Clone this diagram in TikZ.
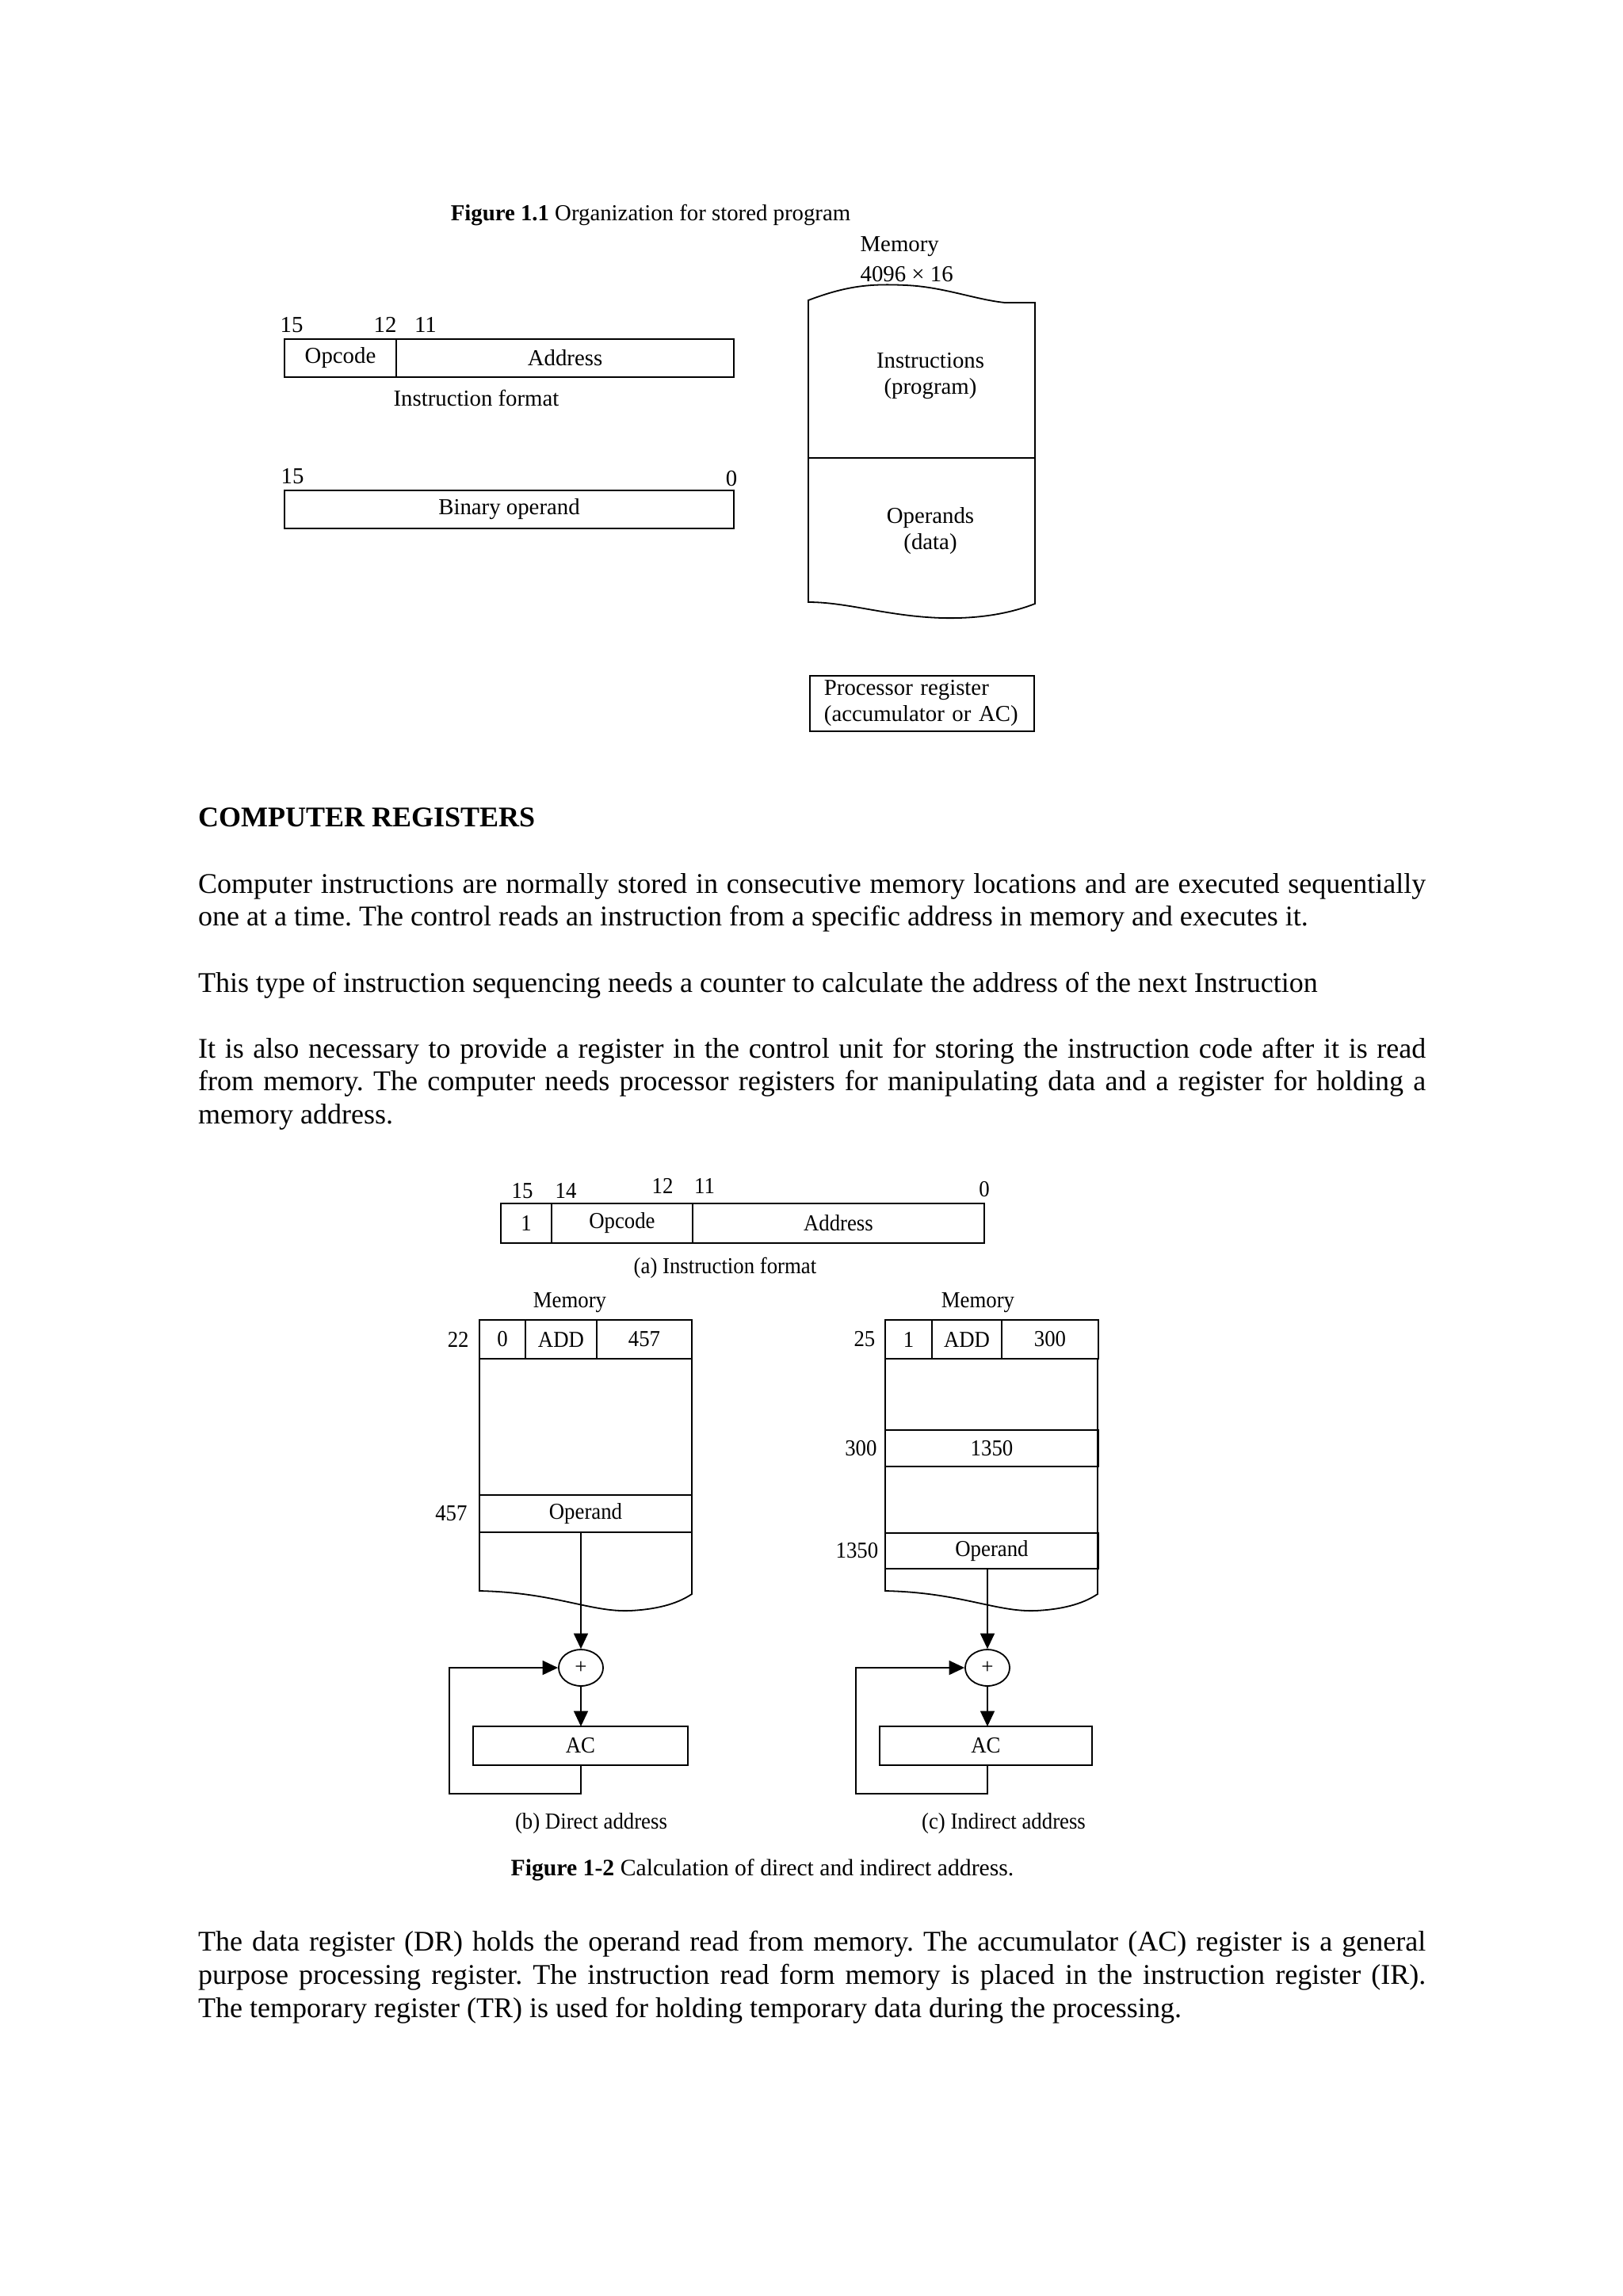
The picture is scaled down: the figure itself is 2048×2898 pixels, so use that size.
\documentclass[tikz,border=0pt]{standalone}
\usepackage{fontspec}
\setmainfont{Liberation Serif}
\newfontfamily\narrowserif[FakeStretch=0.93]{Liberation Serif}
\usepackage{tikz}
\usetikzlibrary{shapes,arrows.meta,positioning,calc}
\frenchspacing

\newcommand{\fullline}[1]{\makebox[516.33pt][s]{#1}}

\begin{document}
\begin{tikzpicture}[
    x=0.3333pt, y=-0.3333pt,
    every node/.style={inner sep=0pt},
    thinline/.style={line width=0.6pt},
    body/.style={anchor=base west, font=\fontsize{12}{14}\selectfont},
    fig/.style={font=\fontsize{9.6}{11}\selectfont},
    figb/.style={font=\narrowserif\fontsize{9.6}{11}\selectfont},
    cell/.style={rectangle, draw, line width=0.6pt, outer sep=0pt, font=\fontsize{9.6}{11}\selectfont},
    cellb/.style={rectangle, draw, line width=0.6pt, outer sep=0pt, font=\narrowserif\fontsize{9.6}{11}\selectfont},
    adder/.style={ellipse, draw, line width=0.6pt, minimum width=18.7pt, minimum height=15.3pt, font=\fontsize{9}{10}\selectfont},
    arrow/.style={-{Triangle[length=6.5pt, width=6pt]}, line width=0.6pt}
]

% Page
\fill[white] (0,0) rectangle (2048,2898);

% Figure 1.1
\node[fig] (cap1) at (821,272) {\textbf{Figure 1.1} Organization for stored program};

\node[fig] (b15) at (368,410) {15};
\node[fig] (b12) at (486,410) {12};
\node[fig] (b11) at (537,410) {11};
\node[cell, minimum width=47pt, minimum height=16pt] (opc) at (429.5,452) {Opcode};
\node[cell, minimum width=142pt, minimum height=16pt, right=0pt of opc] (adr) {Address};
\node[fig] (ifmt) at (601,502) {Instruction format};

\node[fig] (c15) at (369,601) {15};
\node[fig] (c0) at (923,604) {0};
\node[cell, minimum width=189pt, minimum height=16pt] (bin) at (642.5,643) {Binary operand};

% Memory block
\node[fig, anchor=west] (memA) at (1085,311) {Memory};
\node[fig, anchor=west] (memB) at (1085,346) {4096 × 16};
\draw[thinline] (1020,379) .. controls (1070,360) and (1100,358) .. (1143,360)
    .. controls (1190,362) and (1230,378) .. (1268,382) -- (1306,382) -- (1306,762)
    .. controls (1270,776) and (1230,781) .. (1189,780)
    .. controls (1120,778) and (1070,760) .. (1020,760) -- cycle;
\draw[thinline] (1020,578) -- (1306,578);
\node[fig, align=center] (instr) at (1174,475) {Instructions\\(program)};
\node[fig, align=center] (opnd) at (1174,670) {Operands\\(data)};

\node[fig, draw, thinline, anchor=north west, align=left, text width=82.3pt,
      inner xsep=6pt, inner ysep=2pt] (preg) at (1021,852) {Processor register\\(accumulator or AC)};

% Section heading and text
\node[body, font=\fontsize{12}{14}\selectfont\bfseries] (head) at (249.5,1043) {COMPUTER REGISTERS};
\node[body] (p1a) at (249.5,1127) {\fullline{Computer instructions are normally stored in consecutive memory locations and are executed sequentially}};
\node[body] (p1b) at (249.5,1168.5) {one at a time. The control reads an instruction from a specific address in memory and executes it.};
\node[body] (p2) at (249.5,1252) {This type of instruction sequencing needs a counter to calculate the address of the next Instruction};
\node[body] (p3a) at (249.5,1335) {\fullline{It is also necessary to provide a register in the control unit for storing the instruction code after it is read}};
\node[body] (p3b) at (249.5,1376.5) {\fullline{from memory. The computer needs processor registers for manipulating data and a register for holding a}};
\node[body] (p3c) at (249.5,1418) {memory address.};

% Figure 1-2 (a)
\node[figb] (d15) at (659,1503) {15};
\node[figb] (d14) at (714,1503) {14};
\node[figb] (d12) at (836,1497) {12};
\node[figb] (d11) at (889,1497) {11};
\node[figb] (d0) at (1242,1501) {0};
\node[cellb, minimum width=21.3pt, minimum height=16.7pt] (ibit) at (664,1544) {1};
\node[cellb, minimum width=59.3pt, minimum height=16.7pt, right=0pt of ibit] (opc2) {Opcode};
\node[cellb, minimum width=122.7pt, minimum height=16.7pt, right=0pt of opc2] (adr2) {Address};
\node[figb] (afmt) at (915,1600) {(a) Instruction format};

% Figure 1-2 (b) direct
\node[figb] (meml) at (719,1644) {Memory};
\node[cellb, minimum width=19.3pt, minimum height=16.3pt] (li) at (634,1690.5) {0};
\node[cellb, minimum width=30pt, minimum height=16.3pt, right=0pt of li] (ladd) {ADD};
\node[cellb, minimum width=40pt, minimum height=16.3pt, right=0pt of ladd] (lval) {457};
\node[figb, left=4.3pt of li] (a22) {22};
\node[cellb, minimum width=89.3pt, minimum height=15.7pt] (lop) at (739,1910.5) {Operand};
\node[figb, left=5pt of lop] (a457) {457};

% Figure 1-2 (c) indirect
\node[figb] (memr) at (1234,1644) {Memory};
\node[cellb, minimum width=19.7pt, minimum height=16.3pt] (ri) at (1146.5,1690.5) {1};
\node[cellb, minimum width=29.3pt, minimum height=16.3pt, right=0pt of ri] (radd) {ADD};
\node[cellb, minimum width=40.7pt, minimum height=16.3pt, right=0pt of radd] (rval) {300};
\node[figb, left=4pt of ri] (a25) {25};
\node[cellb, minimum width=89.7pt, minimum height=15.3pt] (rptr) at (1251.5,1828) {1350};
\node[figb, left=3.3pt of rptr] (a300) {300};
\node[cellb, minimum width=89.7pt, minimum height=15pt] (rop) at (1251.5,1957.5) {Operand};
\node[figb, left=2.7pt of rop] (a1350) {1350};

% Memory outlines with torn bottom
\foreach \dx in {0,512}
  \draw[thinline] (605+\dx,1715) -- (605+\dx,2008)
    .. controls (700+\dx,2010) and (745+\dx,2035) .. (795+\dx,2033)
    .. controls (835+\dx,2031) and (858+\dx,2022) .. (873+\dx,2012) -- (873+\dx,1715);

% Adders and accumulators
\node[adder] (addl) at (733,2105) {+};
\node[adder] (addr) at (1246,2105) {+};
\node[cellb, minimum width=90.3pt, minimum height=16.3pt] (acl) at (732.5,2203.5) {AC};
\node[cellb, minimum width=89.3pt, minimum height=16.3pt] (acr) at (1244,2203.5) {AC};
\coordinate (loopl) at (567,2264);
\coordinate (loopr) at (1080,2264);

\draw[arrow] (addl |- lop.south) -- (addl.north);
\draw[arrow] (addl.south) -- (addl.south |- acl.north);
\draw[arrow] (acl.south -| addl) |- (loopl) |- (addl.west);

\draw[arrow] (addr |- rop.south) -- (addr.north);
\draw[arrow] (addr.south) -- (addr.south |- acr.north);
\draw[arrow] (acr.south -| addr) |- (loopr) |- (addr.west);

\node[figb] (capb) at (746,2302) {(b) Direct address};
\node[figb] (capc) at (1266.5,2302) {(c) Indirect address};
\node[fig, font=\fontsize{9.9}{12}\selectfont] (cap2) at (962,2360) {\textbf{Figure 1-2} Calculation of direct and indirect address.};

% Closing text
\node[body] (p4a) at (249.5,2462) {\fullline{The data register (DR) holds the operand read from memory. The accumulator (AC) register is a general}};
\node[body] (p4b) at (249.5,2504) {\fullline{purpose processing register. The instruction read form memory is placed in the instruction register (IR).}};
\node[body] (p4c) at (249.5,2546) {The temporary register (TR) is used for holding temporary data during the processing.};

\end{tikzpicture}
\end{document}
